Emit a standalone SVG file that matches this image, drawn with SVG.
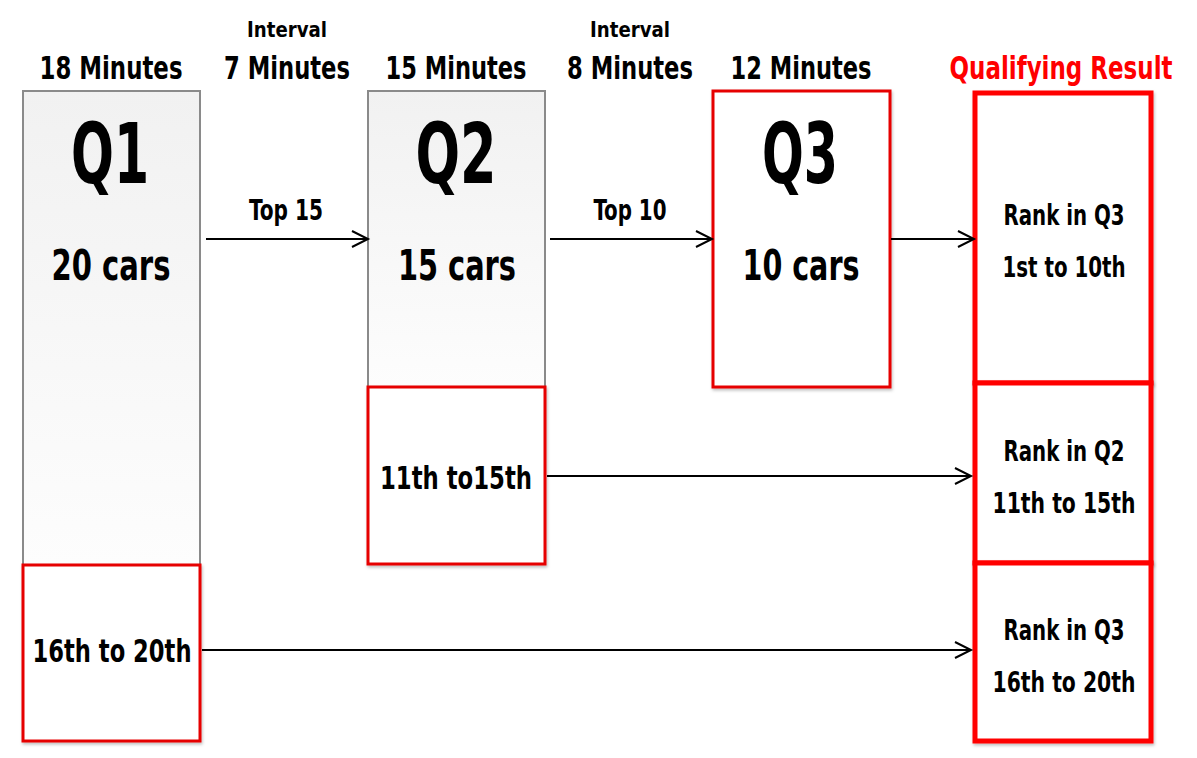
<svg xmlns="http://www.w3.org/2000/svg" width="1197" height="758" viewBox="0 0 1197 758">
<style>
text{font-family:"Liberation Sans Narrow","DejaVu Sans Condensed","Liberation Sans",sans-serif;font-weight:bold;font-stretch:condensed;text-anchor:middle;fill:#000}
.hdr{font-size:32px}
.intv{font-size:22px}
.big{font-size:84px}
.cars{font-size:42px}
.lbl{font-size:28px}
.rng{font-size:32px}
.res{font-size:28px}
.red{fill:#ff0000}
.gray{fill:url(#g);stroke:#8a8a8a;stroke-width:2}
.thin{fill:#fff;stroke:#e60000;stroke-width:3;filter:url(#sh)}
.thick{fill:#fff;stroke:#ff0000;stroke-width:5;filter:url(#sh)}
.conn line{stroke:#000;stroke-width:2;marker-end:url(#ah)}
</style>
<defs>
<linearGradient id="g" x1="0" y1="0" x2="0" y2="1">
<stop offset="0" stop-color="#f1f1f1"/>
<stop offset="1" stop-color="#fdfdfd"/>
</linearGradient>
<filter id="sh" x="-10%" y="-10%" width="130%" height="130%">
<feDropShadow dx="1" dy="2" stdDeviation="1.5" flood-color="#000" flood-opacity="0.25"/>
</filter>
<marker id="ah" markerWidth="20" markerHeight="20" refX="17" refY="9" orient="auto" markerUnits="userSpaceOnUse">
<path d="M1,1 L17,9 L1,17" fill="none" stroke="#000" stroke-width="2"/>
</marker>
</defs>
<rect width="1197" height="758" fill="#fff"/>

<g id="headers">
<text class="hdr" x="111" y="79" textLength="143" lengthAdjust="spacingAndGlyphs">18 Minutes</text>
<text class="intv" x="287" y="37" textLength="80" lengthAdjust="spacingAndGlyphs">Interval</text>
<text class="hdr" x="287" y="79" textLength="126" lengthAdjust="spacingAndGlyphs">7 Minutes</text>
<text class="hdr" x="456" y="79" textLength="141" lengthAdjust="spacingAndGlyphs">15 Minutes</text>
<text class="intv" x="630" y="37" textLength="80" lengthAdjust="spacingAndGlyphs">Interval</text>
<text class="hdr" x="630" y="79" textLength="126" lengthAdjust="spacingAndGlyphs">8 Minutes</text>
<text class="hdr" x="801" y="79" textLength="141" lengthAdjust="spacingAndGlyphs">12 Minutes</text>
<text class="hdr red" x="1061" y="79" textLength="223" lengthAdjust="spacingAndGlyphs">Qualifying Result</text>
</g>

<g id="q1">
<rect class="gray" x="23" y="91" width="177" height="474"/>
<text class="big" x="110" y="183" textLength="78" lengthAdjust="spacingAndGlyphs">Q1</text>
<text class="cars" x="111" y="280" textLength="119" lengthAdjust="spacingAndGlyphs">20 cars</text>
</g>
<g id="q1-out">
<rect class="thin" x="23" y="565" width="177" height="176"/>
<text class="rng" x="112" y="662" textLength="159" lengthAdjust="spacingAndGlyphs">16th to 20th</text>
</g>

<g id="q2">
<rect class="gray" x="368" y="91" width="177" height="296"/>
<text class="big" x="456" y="183" textLength="81" lengthAdjust="spacingAndGlyphs">Q2</text>
<text class="cars" x="457" y="280" textLength="118" lengthAdjust="spacingAndGlyphs">15 cars</text>
</g>
<g id="q2-out">
<rect class="thin" x="368" y="387" width="177" height="177"/>
<text class="rng" x="456" y="489" textLength="152" lengthAdjust="spacingAndGlyphs">11th to15th</text>
</g>

<g id="q3">
<rect class="thin" x="713" y="91" width="177" height="296"/>
<text class="big" x="800" y="183" textLength="76" lengthAdjust="spacingAndGlyphs">Q3</text>
<text class="cars" x="801" y="280" textLength="117" lengthAdjust="spacingAndGlyphs">10 cars</text>
</g>

<g id="res1">
<rect class="thick" x="975" y="93" width="176" height="290"/>
<text class="res" x="1064" y="225" textLength="121" lengthAdjust="spacingAndGlyphs">Rank in Q3</text>
<text class="res" x="1064" y="277" textLength="123" lengthAdjust="spacingAndGlyphs">1st to 10th</text>
</g>
<g id="res2">
<rect class="thick" x="975" y="383" width="176" height="180"/>
<text class="res" x="1064" y="461" textLength="121" lengthAdjust="spacingAndGlyphs">Rank in Q2</text>
<text class="res" x="1064" y="513" textLength="143" lengthAdjust="spacingAndGlyphs">11th to 15th</text>
</g>
<g id="res3">
<rect class="thick" x="975" y="563" width="176" height="178"/>
<text class="res" x="1064" y="640" textLength="121" lengthAdjust="spacingAndGlyphs">Rank in Q3</text>
<text class="res" x="1064" y="692" textLength="143" lengthAdjust="spacingAndGlyphs">16th to 20th</text>
</g>

<g id="connectors" class="conn">
<line x1="206" y1="239" x2="368" y2="239"/>
<line x1="550" y1="239" x2="712" y2="239"/>
<line x1="891" y1="239" x2="974" y2="239"/>
<line x1="547" y1="476" x2="971" y2="476"/>
<line x1="202" y1="650" x2="971" y2="650"/>
</g>
<g id="connector-labels">
<text class="lbl" x="286" y="220" textLength="74" lengthAdjust="spacingAndGlyphs">Top 15</text>
<text class="lbl" x="630" y="220" textLength="73" lengthAdjust="spacingAndGlyphs">Top 10</text>
</g>
</svg>
